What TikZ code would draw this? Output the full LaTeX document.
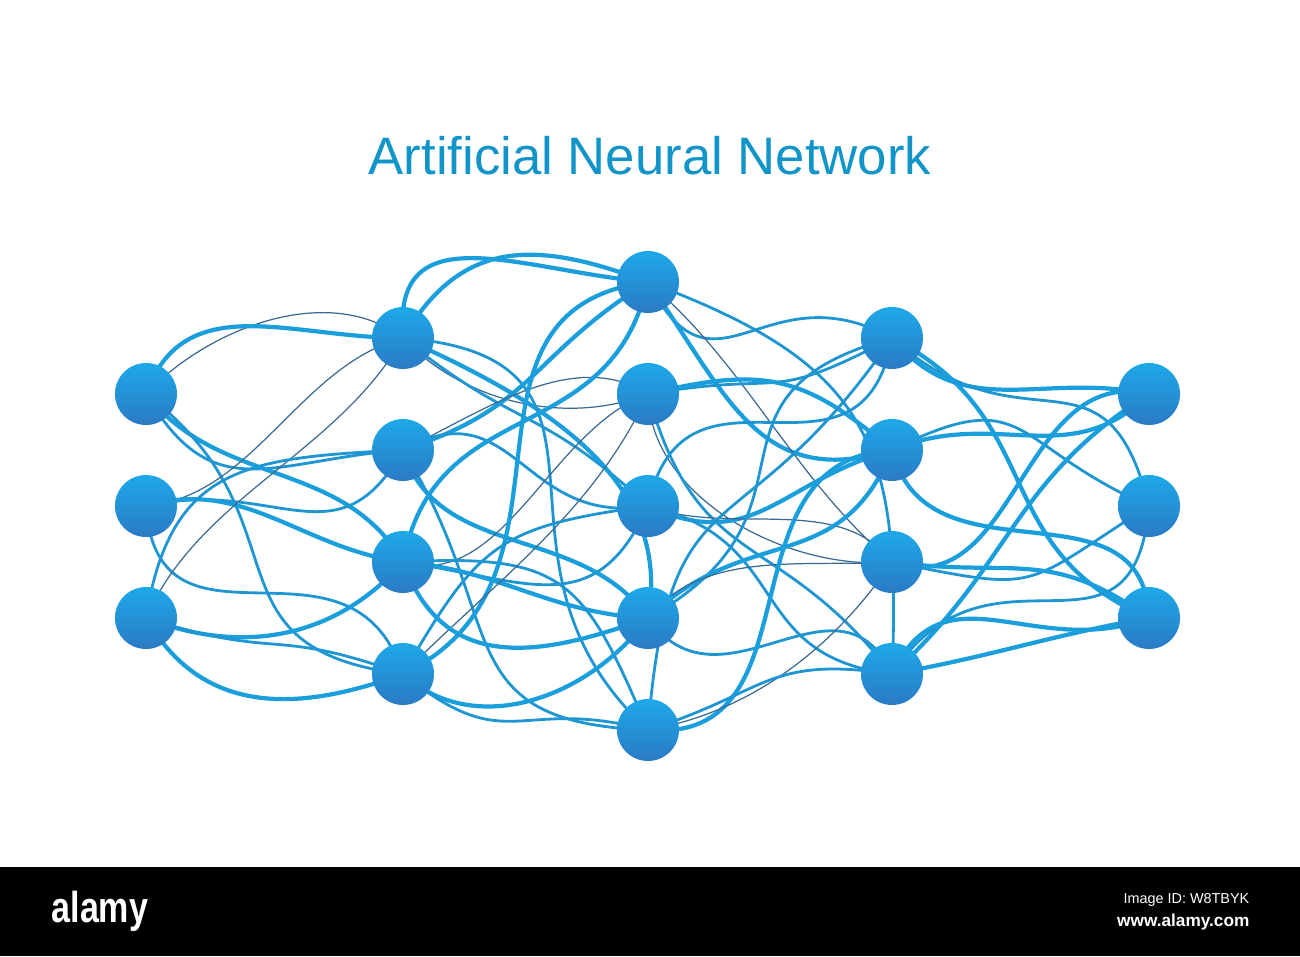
\documentclass[tikz,border=0pt]{standalone}
\usepackage{fontspec}
\setmainfont{Liberation Sans}
\usepackage{graphicx}
\usepackage{xcolor}
\usetikzlibrary{backgrounds}
\definecolor{titleblue}{HTML}{1195C9}
\definecolor{cellhi}{HTML}{1DA9E9}
\definecolor{celllo}{HTML}{2B7AC4}
\definecolor{wireblue}{HTML}{1A9EDC}
\definecolor{wiredark}{HTML}{3A6A94}
\tikzstyle{neuron} = [circle, minimum size=0.62cm, inner sep=0pt,
top color=cellhi, bottom color=celllo, draw=none]
\tikzstyle{synthick} = [wireblue, line width=1.2pt]
\tikzstyle{synmid} = [wireblue!85!wiredark, line width=0.8pt]
\tikzstyle{synthin} = [wiredark, line width=0.35pt]

\begin{document}
\begin{tikzpicture}
  \useasboundingbox (0,0) rectangle (13,-9.56);
  \node [titleblue, anchor=base, font=\fontsize{15}{18}\selectfont] (title)
    at (6.5,-1.75) {Artificial Neural Network};
  % neurons, layer by layer
  \foreach \lay/\xx/\cnt in {1/1.46/3, 2/4.03/4, 3/6.48/5, 4/8.92/4, 5/11.49/3}
    \foreach \k in {1,...,\cnt}
      \node [neuron] (n\lay-\k) at (\xx, {-5.06+((\cnt+1)/2-\k)*1.12}) {};
  % wavy synapses between neighbouring layers
  \begin{scope}[on background layer]
    \foreach \lay/\na/\nb in {1/3/4, 2/4/5, 3/5/4, 4/4/3} {
      \pgfmathtruncatemacro\nxt{\lay+1}
      \foreach \k in {1,...,\na} {
        \foreach \m in {1,...,\nb} {
          \pgfmathsetmacro\rise{((\na+1)/2-\k)*1.12-((\nb+1)/2-\m)*1.12}
          \pgfmathsetmacro\dir{atan2((-1)*(\rise),2.5)}
          \pgfmathtruncatemacro\wa{mod(\k*47+\m*29+\lay*13,110)-55}
          \pgfmathtruncatemacro\wb{mod(\k*31+\m*67+\lay*17,110)-55}
          \pgfmathsetmacro\aout{\dir+\wa}
          \pgfmathsetmacro\ain{\dir+180+\wb}
          \pgfmathsetmacro\loose{0.9+mod(\k*7+\m*11+\lay*3,7)/10}
          \pgfmathtruncatemacro\kind{mod(\k*5+\m*3+\lay*2,5)}
          \ifnum\kind=0 \def\sty{synthin}\else\ifnum\kind<3 \def\sty{synthick}\else\def\sty{synmid}\fi\fi
          \draw [\sty] (n\lay-\k.center) to[out=\aout, in=\ain, looseness=\loose] (n\nxt-\m.center);
        }
      }
    }
    % a few extra loops
    \draw [synthick] (n2-1.center) to[out=95, in=175, looseness=1.3] (n3-1.center);
    \draw [synthick] (n1-1.center) to[out=70, in=180, looseness=1.1] (n2-1.center);
    \draw [synthick] (n2-3.center) to[out=-70, in=200, looseness=1.2] (n3-4.center);
    \draw [synthick] (n1-3.center) to[out=-60, in=200, looseness=1.1] (n2-4.center);
    \draw [synthick] (n4-4.center) to[out=10, in=190] (n5-3.center);
  \end{scope}
  % stock banner
  \fill [black] (0,-8.67) rectangle (13,-9.56);
  \node [white, anchor=base west, inner sep=0pt, font=\bfseries\fontsize{11}{12}\selectfont]
    (brand) at (0.51,-9.22) {\scalebox{0.88}[1.12]{alamy}};
  \node [white, anchor=base east, inner sep=0pt, font=\fontsize{4.1}{5}\selectfont]
    (imgid) at (12.5,-9.03) {Image ID: W8TBYK};
  \node [white, anchor=base east, inner sep=0pt, font=\bfseries\fontsize{4.9}{6}\selectfont]
    (site) at (12.5,-9.26) {www.alamy.com};
\end{tikzpicture}
\end{document}
